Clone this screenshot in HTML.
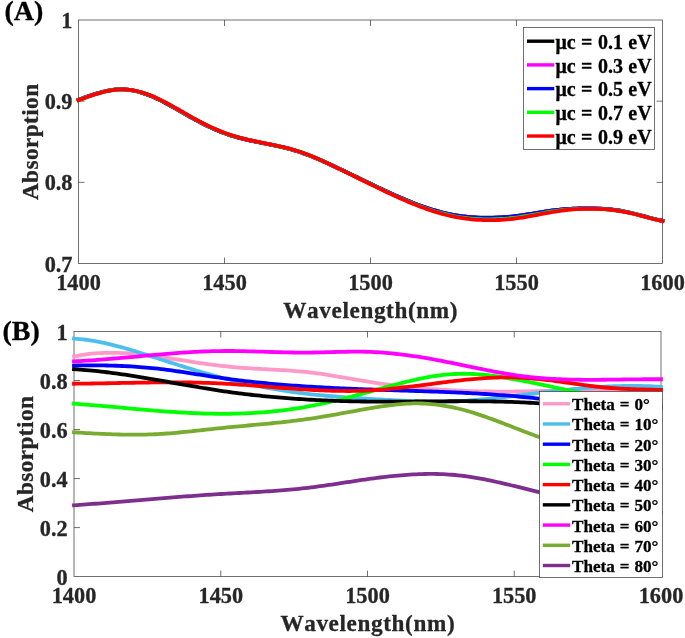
<!DOCTYPE html><html><head><meta charset="utf-8"><title>Absorption</title><style>html,body{margin:0;padding:0;background:#fff}svg{display:block}text{font-family:"Liberation Serif","Times New Roman",serif;font-weight:bold;font-kerning:none;paint-order:stroke}</style></head><body>
<svg width="685" height="638" viewBox="0 0 685 638">
<rect width="685" height="638" fill="#fff"/>
<g stroke="#404040" stroke-width="0.75" fill="none">
<rect x="78.5" y="20.0" width="584.0" height="243.5"/>
<path d="M224.50 263.5v-6M224.50 20.0v6"/>
<path d="M370.50 263.5v-6M370.50 20.0v6"/>
<path d="M516.50 263.5v-6M516.50 20.0v6"/>
<path d="M78.5 182.33h6M662.5 182.33h-6"/>
<path d="M78.5 101.17h6M662.5 101.17h-6"/>
</g>
<g fill="#262626" font-size="22.3" stroke="#262626" stroke-width="0.3">
<text x="78.5" y="289.7" text-anchor="middle">1400</text>
<text x="224.5" y="289.7" text-anchor="middle">1450</text>
<text x="370.5" y="289.7" text-anchor="middle">1500</text>
<text x="516.5" y="289.7" text-anchor="middle">1550</text>
<text x="662.5" y="289.7" text-anchor="middle">1600</text>
<text x="72.5" y="271.5" text-anchor="end">0.7</text>
<text x="72.5" y="190.3" text-anchor="end">0.8</text>
<text x="72.5" y="109.2" text-anchor="end">0.9</text>
<text x="72.5" y="28.0" text-anchor="end">1</text>
</g>
<g stroke="#404040" stroke-width="0.75" fill="none">
<rect x="74.0" y="331.5" width="587.0" height="245.10000000000002"/>
<path d="M220.75 576.6v-6M220.75 331.5v6"/>
<path d="M367.50 576.6v-6M367.50 331.5v6"/>
<path d="M514.25 576.6v-6M514.25 331.5v6"/>
<path d="M74.0 527.58h6M661.0 527.58h-6"/>
<path d="M74.0 478.56h6M661.0 478.56h-6"/>
<path d="M74.0 429.54h6M661.0 429.54h-6"/>
<path d="M74.0 380.52h6M661.0 380.52h-6"/>
</g>
<g fill="#262626" font-size="22.3" stroke="#262626" stroke-width="0.3">
<text x="74.0" y="603.1" text-anchor="middle">1400</text>
<text x="220.8" y="603.1" text-anchor="middle">1450</text>
<text x="367.5" y="603.1" text-anchor="middle">1500</text>
<text x="514.2" y="603.1" text-anchor="middle">1550</text>
<text x="661.0" y="603.1" text-anchor="middle">1600</text>
<text x="67.7" y="584.8" text-anchor="end">0</text>
<text x="67.7" y="535.7" text-anchor="end">0.2</text>
<text x="67.7" y="486.7" text-anchor="end">0.4</text>
<text x="67.7" y="437.7" text-anchor="end">0.6</text>
<text x="67.7" y="388.7" text-anchor="end">0.8</text>
<text x="67.7" y="339.6" text-anchor="end">1</text>
</g>
<g fill="#262626" font-size="23.2" letter-spacing="0.62" stroke="#262626" stroke-width="0.3">
<text x="370.7" y="318.1" text-anchor="middle">Wavelength(nm)</text>
<text x="367.8" y="631.2" text-anchor="middle">Wavelength(nm)</text>
<text transform="translate(37.9 141.8) rotate(-90)" text-anchor="middle" letter-spacing="0.45">Absorption</text>
<text transform="translate(32.5 454) rotate(-90)" text-anchor="middle" letter-spacing="0.45">Absorption</text>
</g>
<g fill="#000" font-size="28" stroke="#000" stroke-width="0.3">
<text x="4.5" y="19.7">(A)</text>
<text x="2.5" y="339.5">(B)</text>
</g>
<g fill="none" stroke-width="3.8" stroke-linejoin="round" stroke-linecap="square">
<path stroke="#000" d="M78.5 99.79 L81.5 98.70 L84.5 97.62 L87.5 96.56 L90.5 95.54 L93.5 94.55 L96.5 93.62 L99.5 92.74 L102.5 91.94 L105.5 91.23 L108.5 90.61 L111.5 90.10 L114.5 89.71 L117.5 89.46 L120.5 89.35 L123.5 89.39 L126.5 89.59 L129.5 89.93 L132.5 90.40 L135.5 91.01 L138.5 91.75 L141.5 92.60 L144.5 93.57 L147.5 94.65 L150.5 95.82 L153.5 97.09 L156.5 98.44 L159.5 99.88 L162.5 101.39 L165.5 102.95 L168.5 104.57 L171.5 106.24 L174.5 107.93 L177.5 109.64 L180.5 111.37 L183.5 113.10 L186.5 114.82 L189.5 116.52 L192.5 118.19 L195.5 119.83 L198.5 121.43 L201.5 122.98 L204.5 124.49 L207.5 125.96 L210.5 127.37 L213.5 128.73 L216.5 130.03 L219.5 131.27 L222.5 132.45 L225.5 133.57 L228.5 134.61 L231.5 135.59 L234.5 136.50 L237.5 137.35 L240.5 138.16 L243.5 138.91 L246.5 139.63 L249.5 140.31 L252.5 140.96 L255.5 141.59 L258.5 142.20 L261.5 142.80 L264.5 143.40 L267.5 144.00 L270.5 144.60 L273.5 145.22 L276.5 145.85 L279.5 146.51 L282.5 147.20 L285.5 147.93 L288.5 148.70 L291.5 149.52 L294.5 150.38 L297.5 151.31 L300.5 152.29 L303.5 153.33 L306.5 154.42 L309.5 155.56 L312.5 156.76 L315.5 157.99 L318.5 159.26 L321.5 160.57 L324.5 161.91 L327.5 163.28 L330.5 164.66 L333.5 166.06 L336.5 167.48 L339.5 168.90 L342.5 170.32 L345.5 171.75 L348.5 173.19 L351.5 174.63 L354.5 176.07 L357.5 177.51 L360.5 178.96 L363.5 180.40 L366.5 181.84 L369.5 183.27 L372.5 184.72 L375.5 186.16 L378.5 187.60 L381.5 189.02 L384.5 190.43 L387.5 191.83 L390.5 193.21 L393.5 194.57 L396.5 195.91 L399.5 197.24 L402.5 198.54 L405.5 199.81 L408.5 201.06 L411.5 202.27 L414.5 203.45 L417.5 204.60 L420.5 205.71 L423.5 206.77 L426.5 207.80 L429.5 208.78 L432.5 209.72 L435.5 210.61 L438.5 211.45 L441.5 212.25 L444.5 212.99 L447.5 213.68 L450.5 214.31 L453.5 214.89 L456.5 215.41 L459.5 215.88 L462.5 216.29 L465.5 216.64 L468.5 216.94 L471.5 217.20 L474.5 217.40 L477.5 217.56 L480.5 217.66 L483.5 217.73 L486.5 217.76 L489.5 217.75 L492.5 217.70 L495.5 217.61 L498.5 217.49 L501.5 217.33 L504.5 217.13 L507.5 216.90 L510.5 216.63 L513.5 216.32 L516.5 215.97 L519.5 215.59 L522.5 215.17 L525.5 214.72 L528.5 214.25 L531.5 213.76 L534.5 213.27 L537.5 212.77 L540.5 212.28 L543.5 211.80 L546.5 211.34 L549.5 210.90 L552.5 210.50 L555.5 210.12 L558.5 209.78 L561.5 209.48 L564.5 209.23 L567.5 209.01 L570.5 208.83 L573.5 208.67 L576.5 208.54 L579.5 208.44 L582.5 208.38 L585.5 208.34 L588.5 208.34 L591.5 208.37 L594.5 208.43 L597.5 208.53 L600.5 208.67 L603.5 208.85 L606.5 209.08 L609.5 209.35 L612.5 209.68 L615.5 210.05 L618.5 210.48 L621.5 210.97 L624.5 211.51 L627.5 212.11 L630.5 212.77 L633.5 213.49 L636.5 214.25 L639.5 215.05 L642.5 215.86 L645.5 216.67 L648.5 217.49 L651.5 218.28 L654.5 219.04 L657.5 219.75 L660.5 220.40 L662.5 220.80"/>
<path stroke="#ff00ff" d="M78.5 99.79 L81.5 98.70 L84.5 97.62 L87.5 96.56 L90.5 95.54 L93.5 94.55 L96.5 93.62 L99.5 92.74 L102.5 91.94 L105.5 91.23 L108.5 90.61 L111.5 90.10 L114.5 89.71 L117.5 89.46 L120.5 89.35 L123.5 89.39 L126.5 89.59 L129.5 89.93 L132.5 90.40 L135.5 91.01 L138.5 91.75 L141.5 92.60 L144.5 93.57 L147.5 94.65 L150.5 95.82 L153.5 97.09 L156.5 98.44 L159.5 99.88 L162.5 101.39 L165.5 102.95 L168.5 104.57 L171.5 106.24 L174.5 107.93 L177.5 109.64 L180.5 111.37 L183.5 113.10 L186.5 114.82 L189.5 116.52 L192.5 118.19 L195.5 119.83 L198.5 121.43 L201.5 122.98 L204.5 124.49 L207.5 125.96 L210.5 127.37 L213.5 128.73 L216.5 130.03 L219.5 131.27 L222.5 132.45 L225.5 133.57 L228.5 134.61 L231.5 135.59 L234.5 136.50 L237.5 137.35 L240.5 138.16 L243.5 138.91 L246.5 139.63 L249.5 140.31 L252.5 140.96 L255.5 141.59 L258.5 142.20 L261.5 142.80 L264.5 143.40 L267.5 144.00 L270.5 144.60 L273.5 145.22 L276.5 145.85 L279.5 146.51 L282.5 147.20 L285.5 147.93 L288.5 148.70 L291.5 149.52 L294.5 150.38 L297.5 151.31 L300.5 152.30 L303.5 153.33 L306.5 154.42 L309.5 155.57 L312.5 156.76 L315.5 157.99 L318.5 159.27 L321.5 160.58 L324.5 161.92 L327.5 163.28 L330.5 164.67 L333.5 166.07 L336.5 167.49 L339.5 168.91 L342.5 170.34 L345.5 171.77 L348.5 173.21 L351.5 174.65 L354.5 176.09 L357.5 177.53 L360.5 178.98 L363.5 180.42 L366.5 181.86 L369.5 183.29 L372.5 184.74 L375.5 186.19 L378.5 187.63 L381.5 189.05 L384.5 190.47 L387.5 191.86 L390.5 193.25 L393.5 194.61 L396.5 195.95 L399.5 197.28 L402.5 198.58 L405.5 199.85 L408.5 201.10 L411.5 202.32 L414.5 203.50 L417.5 204.65 L420.5 205.76 L423.5 206.83 L426.5 207.86 L429.5 208.85 L432.5 209.79 L435.5 210.68 L438.5 211.53 L441.5 212.33 L444.5 213.07 L447.5 213.77 L450.5 214.40 L453.5 214.99 L456.5 215.51 L459.5 215.98 L462.5 216.39 L465.5 216.75 L468.5 217.06 L471.5 217.32 L474.5 217.52 L477.5 217.68 L480.5 217.79 L483.5 217.87 L486.5 217.90 L489.5 217.89 L492.5 217.84 L495.5 217.76 L498.5 217.63 L501.5 217.47 L504.5 217.27 L507.5 217.04 L510.5 216.77 L513.5 216.46 L516.5 216.11 L519.5 215.72 L522.5 215.30 L525.5 214.85 L528.5 214.38 L531.5 213.89 L534.5 213.39 L537.5 212.89 L540.5 212.39 L543.5 211.91 L546.5 211.44 L549.5 210.99 L552.5 210.58 L555.5 210.20 L558.5 209.85 L561.5 209.55 L564.5 209.29 L567.5 209.06 L570.5 208.87 L573.5 208.71 L576.5 208.58 L579.5 208.48 L582.5 208.41 L585.5 208.37 L588.5 208.37 L591.5 208.39 L594.5 208.45 L597.5 208.55 L600.5 208.69 L603.5 208.87 L606.5 209.10 L609.5 209.37 L612.5 209.70 L615.5 210.07 L618.5 210.50 L621.5 210.98 L624.5 211.53 L627.5 212.13 L630.5 212.79 L633.5 213.51 L636.5 214.27 L639.5 215.06 L642.5 215.87 L645.5 216.69 L648.5 217.50 L651.5 218.29 L654.5 219.05 L657.5 219.76 L660.5 220.41 L662.5 220.81"/>
<path stroke="#0000ff" d="M78.5 99.79 L81.5 98.70 L84.5 97.62 L87.5 96.56 L90.5 95.54 L93.5 94.55 L96.5 93.62 L99.5 92.74 L102.5 91.94 L105.5 91.23 L108.5 90.61 L111.5 90.10 L114.5 89.71 L117.5 89.46 L120.5 89.35 L123.5 89.39 L126.5 89.59 L129.5 89.93 L132.5 90.40 L135.5 91.01 L138.5 91.75 L141.5 92.60 L144.5 93.57 L147.5 94.65 L150.5 95.82 L153.5 97.09 L156.5 98.44 L159.5 99.88 L162.5 101.39 L165.5 102.95 L168.5 104.57 L171.5 106.24 L174.5 107.93 L177.5 109.64 L180.5 111.37 L183.5 113.10 L186.5 114.82 L189.5 116.52 L192.5 118.19 L195.5 119.83 L198.5 121.43 L201.5 122.98 L204.5 124.49 L207.5 125.96 L210.5 127.37 L213.5 128.73 L216.5 130.03 L219.5 131.27 L222.5 132.45 L225.5 133.57 L228.5 134.61 L231.5 135.59 L234.5 136.50 L237.5 137.35 L240.5 138.16 L243.5 138.91 L246.5 139.63 L249.5 140.31 L252.5 140.96 L255.5 141.59 L258.5 142.20 L261.5 142.80 L264.5 143.40 L267.5 144.00 L270.5 144.60 L273.5 145.22 L276.5 145.85 L279.5 146.51 L282.5 147.20 L285.5 147.93 L288.5 148.70 L291.5 149.52 L294.5 150.38 L297.5 151.31 L300.5 152.30 L303.5 153.33 L306.5 154.42 L309.5 155.57 L312.5 156.76 L315.5 157.99 L318.5 159.27 L321.5 160.58 L324.5 161.92 L327.5 163.28 L330.5 164.67 L333.5 166.07 L336.5 167.49 L339.5 168.91 L342.5 170.34 L345.5 171.77 L348.5 173.21 L351.5 174.65 L354.5 176.09 L357.5 177.53 L360.5 178.98 L363.5 180.42 L366.5 181.86 L369.5 183.29 L372.5 184.74 L375.5 186.19 L378.5 187.63 L381.5 189.05 L384.5 190.47 L387.5 191.86 L390.5 193.25 L393.5 194.61 L396.5 195.95 L399.5 197.28 L402.5 198.58 L405.5 199.85 L408.5 201.10 L411.5 202.32 L414.5 203.50 L417.5 204.65 L420.5 205.76 L423.5 206.83 L426.5 207.86 L429.5 208.85 L432.5 209.79 L435.5 210.68 L438.5 211.53 L441.5 212.33 L444.5 213.07 L447.5 213.77 L450.5 214.40 L453.5 214.99 L456.5 215.51 L459.5 215.98 L462.5 216.39 L465.5 216.75 L468.5 217.06 L471.5 217.32 L474.5 217.52 L477.5 217.68 L480.5 217.79 L483.5 217.87 L486.5 217.90 L489.5 217.89 L492.5 217.84 L495.5 217.76 L498.5 217.63 L501.5 217.47 L504.5 217.27 L507.5 217.04 L510.5 216.77 L513.5 216.46 L516.5 216.11 L519.5 215.72 L522.5 215.30 L525.5 214.85 L528.5 214.38 L531.5 213.89 L534.5 213.39 L537.5 212.89 L540.5 212.39 L543.5 211.91 L546.5 211.44 L549.5 210.99 L552.5 210.58 L555.5 210.20 L558.5 209.85 L561.5 209.55 L564.5 209.29 L567.5 209.06 L570.5 208.87 L573.5 208.71 L576.5 208.58 L579.5 208.48 L582.5 208.41 L585.5 208.37 L588.5 208.37 L591.5 208.39 L594.5 208.45 L597.5 208.55 L600.5 208.69 L603.5 208.87 L606.5 209.10 L609.5 209.37 L612.5 209.70 L615.5 210.07 L618.5 210.50 L621.5 210.98 L624.5 211.53 L627.5 212.13 L630.5 212.79 L633.5 213.51 L636.5 214.27 L639.5 215.06 L642.5 215.87 L645.5 216.69 L648.5 217.50 L651.5 218.29 L654.5 219.05 L657.5 219.76 L660.5 220.41 L662.5 220.81"/>
<path stroke="#00ff00" d="M78.5 99.99 L81.5 98.90 L84.5 97.82 L87.5 96.76 L90.5 95.72 L93.5 94.73 L96.5 93.78 L99.5 92.90 L102.5 92.08 L105.5 91.35 L108.5 90.72 L111.5 90.19 L114.5 89.78 L117.5 89.50 L120.5 89.36 L123.5 89.37 L126.5 89.54 L129.5 89.85 L132.5 90.31 L135.5 90.89 L138.5 91.61 L141.5 92.44 L144.5 93.39 L147.5 94.44 L150.5 95.60 L153.5 96.85 L156.5 98.19 L159.5 99.61 L162.5 101.11 L165.5 102.66 L168.5 104.27 L171.5 105.93 L174.5 107.62 L177.5 109.33 L180.5 111.05 L183.5 112.78 L186.5 114.50 L189.5 116.21 L192.5 117.89 L195.5 119.53 L198.5 121.14 L201.5 122.70 L204.5 124.22 L207.5 125.69 L210.5 127.11 L213.5 128.48 L216.5 129.80 L219.5 131.05 L222.5 132.24 L225.5 133.37 L228.5 134.42 L231.5 135.41 L234.5 136.34 L237.5 137.20 L240.5 138.01 L243.5 138.78 L246.5 139.50 L249.5 140.18 L252.5 140.84 L255.5 141.47 L258.5 142.09 L261.5 142.69 L264.5 143.29 L267.5 143.89 L270.5 144.49 L273.5 145.10 L276.5 145.73 L279.5 146.39 L282.5 147.07 L285.5 147.79 L288.5 148.56 L291.5 149.36 L294.5 150.22 L297.5 151.14 L300.5 152.12 L303.5 153.16 L306.5 154.26 L309.5 155.41 L312.5 156.62 L315.5 157.87 L318.5 159.16 L321.5 160.49 L324.5 161.84 L327.5 163.23 L330.5 164.64 L333.5 166.06 L336.5 167.49 L339.5 168.94 L342.5 170.39 L345.5 171.84 L348.5 173.30 L351.5 174.77 L354.5 176.23 L357.5 177.70 L360.5 179.16 L363.5 180.63 L366.5 182.09 L369.5 183.55 L372.5 185.01 L375.5 186.48 L378.5 187.93 L381.5 189.37 L384.5 190.80 L387.5 192.22 L390.5 193.62 L393.5 195.00 L396.5 196.37 L399.5 197.71 L402.5 199.03 L405.5 200.33 L408.5 201.60 L411.5 202.84 L414.5 204.05 L417.5 205.22 L420.5 206.36 L423.5 207.46 L426.5 208.53 L429.5 209.55 L432.5 210.52 L435.5 211.46 L438.5 212.34 L441.5 213.18 L444.5 213.96 L447.5 214.70 L450.5 215.38 L453.5 216.00 L456.5 216.57 L459.5 217.08 L462.5 217.54 L465.5 217.94 L468.5 218.29 L471.5 218.59 L474.5 218.84 L477.5 219.04 L480.5 219.19 L483.5 219.29 L486.5 219.35 L489.5 219.36 L492.5 219.33 L495.5 219.26 L498.5 219.14 L501.5 218.98 L504.5 218.78 L507.5 218.54 L510.5 218.25 L513.5 217.93 L516.5 217.56 L519.5 217.16 L522.5 216.72 L525.5 216.24 L528.5 215.73 L531.5 215.20 L534.5 214.66 L537.5 214.11 L540.5 213.56 L543.5 213.02 L546.5 212.49 L549.5 211.98 L552.5 211.49 L555.5 211.04 L558.5 210.62 L561.5 210.24 L564.5 209.91 L567.5 209.62 L570.5 209.37 L573.5 209.15 L576.5 208.97 L579.5 208.83 L582.5 208.73 L585.5 208.67 L588.5 208.64 L591.5 208.65 L594.5 208.70 L597.5 208.79 L600.5 208.92 L603.5 209.09 L606.5 209.31 L609.5 209.58 L612.5 209.90 L615.5 210.27 L618.5 210.69 L621.5 211.17 L624.5 211.70 L627.5 212.30 L630.5 212.95 L633.5 213.66 L636.5 214.42 L639.5 215.20 L642.5 216.01 L645.5 216.82 L648.5 217.62 L651.5 218.41 L654.5 219.16 L657.5 219.87 L660.5 220.52 L662.5 220.92"/>
<path stroke="#ff0000" d="M78.5 100.19 L81.5 99.10 L84.5 98.02 L87.5 96.95 L90.5 95.91 L93.5 94.91 L96.5 93.95 L99.5 93.06 L102.5 92.23 L105.5 91.48 L108.5 90.83 L111.5 90.28 L114.5 89.84 L117.5 89.54 L120.5 89.37 L123.5 89.36 L126.5 89.50 L129.5 89.78 L132.5 90.21 L135.5 90.77 L138.5 91.47 L141.5 92.28 L144.5 93.20 L147.5 94.24 L150.5 95.38 L153.5 96.61 L156.5 97.94 L159.5 99.34 L162.5 100.83 L165.5 102.37 L168.5 103.98 L171.5 105.62 L174.5 107.31 L177.5 109.01 L180.5 110.74 L183.5 112.47 L186.5 114.19 L189.5 115.90 L192.5 117.58 L195.5 119.23 L198.5 120.85 L201.5 122.42 L204.5 123.95 L207.5 125.43 L210.5 126.86 L213.5 128.24 L216.5 129.56 L219.5 130.82 L222.5 132.03 L225.5 133.16 L228.5 134.24 L231.5 135.24 L234.5 136.17 L237.5 137.05 L240.5 137.87 L243.5 138.64 L246.5 139.37 L249.5 140.06 L252.5 140.72 L255.5 141.36 L258.5 141.98 L261.5 142.58 L264.5 143.18 L267.5 143.78 L270.5 144.38 L273.5 144.99 L276.5 145.62 L279.5 146.27 L282.5 146.95 L285.5 147.66 L288.5 148.41 L291.5 149.21 L294.5 150.06 L297.5 150.97 L300.5 151.95 L303.5 152.98 L306.5 154.09 L309.5 155.25 L312.5 156.46 L315.5 157.72 L318.5 159.02 L321.5 160.36 L324.5 161.73 L327.5 163.13 L330.5 164.55 L333.5 165.99 L336.5 167.44 L339.5 168.90 L342.5 170.37 L345.5 171.84 L348.5 173.32 L351.5 174.80 L354.5 176.28 L357.5 177.77 L360.5 179.25 L363.5 180.74 L366.5 182.22 L369.5 183.69 L372.5 185.17 L375.5 186.64 L378.5 188.10 L381.5 189.55 L384.5 190.99 L387.5 192.42 L390.5 193.83 L393.5 195.23 L396.5 196.60 L399.5 197.96 L402.5 199.29 L405.5 200.60 L408.5 201.88 L411.5 203.13 L414.5 204.36 L417.5 205.55 L420.5 206.70 L423.5 207.82 L426.5 208.90 L429.5 209.94 L432.5 210.94 L435.5 211.89 L438.5 212.80 L441.5 213.66 L444.5 214.47 L447.5 215.22 L450.5 215.93 L453.5 216.57 L456.5 217.16 L459.5 217.70 L462.5 218.18 L465.5 218.61 L468.5 218.99 L471.5 219.31 L474.5 219.58 L477.5 219.80 L480.5 219.97 L483.5 220.10 L486.5 220.17 L489.5 220.19 L492.5 220.17 L495.5 220.10 L498.5 219.99 L501.5 219.83 L504.5 219.63 L507.5 219.38 L510.5 219.09 L513.5 218.75 L516.5 218.38 L519.5 217.97 L522.5 217.51 L525.5 217.02 L528.5 216.49 L531.5 215.94 L534.5 215.38 L537.5 214.80 L540.5 214.22 L543.5 213.65 L546.5 213.08 L549.5 212.53 L552.5 212.00 L555.5 211.51 L558.5 211.05 L561.5 210.63 L564.5 210.26 L567.5 209.93 L570.5 209.64 L573.5 209.40 L576.5 209.20 L579.5 209.04 L582.5 208.92 L585.5 208.84 L588.5 208.80 L591.5 208.80 L594.5 208.84 L597.5 208.92 L600.5 209.05 L603.5 209.22 L606.5 209.43 L609.5 209.70 L612.5 210.01 L615.5 210.37 L618.5 210.79 L621.5 211.27 L624.5 211.80 L627.5 212.39 L630.5 213.04 L633.5 213.75 L636.5 214.50 L639.5 215.28 L642.5 216.09 L645.5 216.89 L648.5 217.69 L651.5 218.48 L654.5 219.23 L657.5 219.93 L660.5 220.58 L662.5 220.98"/>
</g>
<g fill="none" stroke-width="3.8" stroke-linejoin="round" stroke-linecap="square">
<path stroke="#ff99c8" d="M74.0 356.38 L77.0 355.79 L80.0 355.25 L83.0 354.78 L86.0 354.36 L89.0 353.99 L92.0 353.68 L95.0 353.42 L98.0 353.20 L101.0 353.04 L104.0 352.92 L107.0 352.84 L110.0 352.80 L113.0 352.81 L116.0 352.86 L119.0 352.94 L122.0 353.05 L125.0 353.21 L128.0 353.39 L131.0 353.60 L134.0 353.84 L137.0 354.11 L140.0 354.41 L143.0 354.72 L146.0 355.06 L149.0 355.42 L152.0 355.80 L155.0 356.19 L158.0 356.60 L161.0 357.03 L164.0 357.46 L167.0 357.91 L170.0 358.36 L173.0 358.82 L176.0 359.29 L179.0 359.75 L182.0 360.23 L185.0 360.70 L188.0 361.17 L191.0 361.64 L194.0 362.10 L197.0 362.56 L200.0 363.01 L203.0 363.45 L206.0 363.88 L209.0 364.29 L212.0 364.70 L215.0 365.08 L218.0 365.45 L221.0 365.80 L224.0 366.14 L227.0 366.45 L230.0 366.74 L233.0 367.02 L236.0 367.28 L239.0 367.53 L242.0 367.77 L245.0 367.99 L248.0 368.20 L251.0 368.40 L254.0 368.59 L257.0 368.77 L260.0 368.94 L263.0 369.11 L266.0 369.27 L269.0 369.43 L272.0 369.59 L275.0 369.74 L278.0 369.90 L281.0 370.07 L284.0 370.24 L287.0 370.43 L290.0 370.62 L293.0 370.83 L296.0 371.06 L299.0 371.31 L302.0 371.58 L305.0 371.87 L308.0 372.19 L311.0 372.53 L314.0 372.90 L317.0 373.30 L320.0 373.71 L323.0 374.15 L326.0 374.60 L329.0 375.07 L332.0 375.55 L335.0 376.05 L338.0 376.55 L341.0 377.06 L344.0 377.58 L347.0 378.10 L350.0 378.63 L353.0 379.15 L356.0 379.67 L359.0 380.18 L362.0 380.69 L365.0 381.19 L368.0 381.68 L371.0 382.16 L374.0 382.63 L377.0 383.08 L380.0 383.51 L383.0 383.94 L386.0 384.35 L389.0 384.75 L392.0 385.13 L395.0 385.50 L398.0 385.86 L401.0 386.21 L404.0 386.55 L407.0 386.87 L410.0 387.18 L413.0 387.48 L416.0 387.77 L419.0 388.04 L422.0 388.30 L425.0 388.56 L428.0 388.80 L431.0 389.03 L434.0 389.25 L437.0 389.45 L440.0 389.65 L443.0 389.84 L446.0 390.02 L449.0 390.18 L452.0 390.34 L455.0 390.48 L458.0 390.62 L461.0 390.75 L464.0 390.86 L467.0 390.97 L470.0 391.07 L473.0 391.16 L476.0 391.24 L479.0 391.31 L482.0 391.37 L485.0 391.42 L488.0 391.47 L491.0 391.51 L494.0 391.54 L497.0 391.56 L500.0 391.57 L503.0 391.57 L506.0 391.57 L509.0 391.56 L512.0 391.54 L515.0 391.52 L518.0 391.49 L521.0 391.45 L524.0 391.40 L527.0 391.35 L530.0 391.29 L533.0 391.23 L536.0 391.16 L539.0 391.09 L542.0 391.02 L545.0 390.94 L548.0 390.86 L551.0 390.78 L554.0 390.70 L557.0 390.62 L560.0 390.54 L563.0 390.45 L566.0 390.38 L569.0 390.30 L572.0 390.22 L575.0 390.15 L578.0 390.08 L581.0 390.02 L584.0 389.96 L587.0 389.90 L590.0 389.85 L593.0 389.81 L596.0 389.77 L599.0 389.75 L602.0 389.73 L605.0 389.71 L608.0 389.71 L611.0 389.72 L614.0 389.74 L617.0 389.76 L620.0 389.79 L623.0 389.82 L626.0 389.85 L629.0 389.89 L632.0 389.93 L635.0 389.97 L638.0 390.00 L641.0 390.03 L644.0 390.06 L647.0 390.08 L650.0 390.09 L653.0 390.09 L656.0 390.09 L659.0 390.07 L661.0 390.05"/>
<path stroke="#4dbeee" d="M74.0 338.60 L77.0 338.81 L80.0 339.07 L83.0 339.39 L86.0 339.76 L89.0 340.18 L92.0 340.64 L95.0 341.15 L98.0 341.70 L101.0 342.30 L104.0 342.93 L107.0 343.60 L110.0 344.30 L113.0 345.03 L116.0 345.80 L119.0 346.59 L122.0 347.41 L125.0 348.26 L128.0 349.12 L131.0 350.01 L134.0 350.91 L137.0 351.83 L140.0 352.76 L143.0 353.70 L146.0 354.65 L149.0 355.61 L152.0 356.57 L155.0 357.54 L158.0 358.51 L161.0 359.47 L164.0 360.44 L167.0 361.40 L170.0 362.35 L173.0 363.31 L176.0 364.26 L179.0 365.20 L182.0 366.14 L185.0 367.07 L188.0 367.99 L191.0 368.91 L194.0 369.82 L197.0 370.71 L200.0 371.60 L203.0 372.48 L206.0 373.34 L209.0 374.19 L212.0 375.04 L215.0 375.86 L218.0 376.67 L221.0 377.47 L224.0 378.26 L227.0 379.02 L230.0 379.78 L233.0 380.51 L236.0 381.23 L239.0 381.94 L242.0 382.63 L245.0 383.31 L248.0 383.97 L251.0 384.61 L254.0 385.24 L257.0 385.86 L260.0 386.46 L263.0 387.04 L266.0 387.61 L269.0 388.16 L272.0 388.70 L275.0 389.22 L278.0 389.73 L281.0 390.22 L284.0 390.69 L287.0 391.15 L290.0 391.60 L293.0 392.03 L296.0 392.44 L299.0 392.84 L302.0 393.22 L305.0 393.59 L308.0 393.94 L311.0 394.28 L314.0 394.60 L317.0 394.91 L320.0 395.20 L323.0 395.48 L326.0 395.75 L329.0 396.01 L332.0 396.26 L335.0 396.50 L338.0 396.73 L341.0 396.96 L344.0 397.17 L347.0 397.38 L350.0 397.59 L353.0 397.79 L356.0 397.98 L359.0 398.17 L362.0 398.36 L365.0 398.55 L368.0 398.73 L371.0 398.92 L374.0 399.10 L377.0 399.28 L380.0 399.47 L383.0 399.64 L386.0 399.82 L389.0 399.99 L392.0 400.16 L395.0 400.32 L398.0 400.48 L401.0 400.63 L404.0 400.77 L407.0 400.90 L410.0 401.02 L413.0 401.14 L416.0 401.24 L419.0 401.33 L422.0 401.41 L425.0 401.47 L428.0 401.53 L431.0 401.56 L434.0 401.59 L437.0 401.59 L440.0 401.59 L443.0 401.56 L446.0 401.51 L449.0 401.45 L452.0 401.37 L455.0 401.26 L458.0 401.14 L461.0 400.99 L464.0 400.82 L467.0 400.64 L470.0 400.43 L473.0 400.21 L476.0 399.97 L479.0 399.72 L482.0 399.45 L485.0 399.16 L488.0 398.87 L491.0 398.56 L494.0 398.24 L497.0 397.92 L500.0 397.58 L503.0 397.24 L506.0 396.89 L509.0 396.54 L512.0 396.18 L515.0 395.81 L518.0 395.45 L521.0 395.08 L524.0 394.72 L527.0 394.35 L530.0 393.98 L533.0 393.62 L536.0 393.26 L539.0 392.90 L542.0 392.54 L545.0 392.18 L548.0 391.83 L551.0 391.49 L554.0 391.15 L557.0 390.81 L560.0 390.48 L563.0 390.16 L566.0 389.84 L569.0 389.54 L572.0 389.24 L575.0 388.95 L578.0 388.67 L581.0 388.40 L584.0 388.14 L587.0 387.89 L590.0 387.65 L593.0 387.43 L596.0 387.22 L599.0 387.02 L602.0 386.84 L605.0 386.67 L608.0 386.51 L611.0 386.37 L614.0 386.25 L617.0 386.15 L620.0 386.06 L623.0 385.99 L626.0 385.94 L629.0 385.90 L632.0 385.89 L635.0 385.90 L638.0 385.93 L641.0 385.98 L644.0 386.05 L647.0 386.14 L650.0 386.26 L653.0 386.40 L656.0 386.56 L659.0 386.75 L661.0 386.89"/>
<path stroke="#0000ff" d="M74.0 365.57 L77.0 365.51 L80.0 365.46 L83.0 365.42 L86.0 365.39 L89.0 365.38 L92.0 365.37 L95.0 365.37 L98.0 365.39 L101.0 365.42 L104.0 365.46 L107.0 365.51 L110.0 365.58 L113.0 365.65 L116.0 365.75 L119.0 365.86 L122.0 365.98 L125.0 366.11 L128.0 366.27 L131.0 366.44 L134.0 366.62 L137.0 366.82 L140.0 367.04 L143.0 367.28 L146.0 367.53 L149.0 367.80 L152.0 368.09 L155.0 368.40 L158.0 368.73 L161.0 369.08 L164.0 369.45 L167.0 369.83 L170.0 370.23 L173.0 370.64 L176.0 371.07 L179.0 371.50 L182.0 371.95 L185.0 372.40 L188.0 372.86 L191.0 373.33 L194.0 373.79 L197.0 374.26 L200.0 374.73 L203.0 375.20 L206.0 375.67 L209.0 376.13 L212.0 376.59 L215.0 377.04 L218.0 377.48 L221.0 377.92 L224.0 378.34 L227.0 378.75 L230.0 379.15 L233.0 379.55 L236.0 379.93 L239.0 380.30 L242.0 380.66 L245.0 381.02 L248.0 381.36 L251.0 381.69 L254.0 382.02 L257.0 382.34 L260.0 382.65 L263.0 382.95 L266.0 383.24 L269.0 383.52 L272.0 383.80 L275.0 384.07 L278.0 384.33 L281.0 384.58 L284.0 384.82 L287.0 385.06 L290.0 385.29 L293.0 385.52 L296.0 385.74 L299.0 385.95 L302.0 386.15 L305.0 386.35 L308.0 386.55 L311.0 386.73 L314.0 386.92 L317.0 387.09 L320.0 387.26 L323.0 387.43 L326.0 387.59 L329.0 387.75 L332.0 387.90 L335.0 388.05 L338.0 388.19 L341.0 388.33 L344.0 388.46 L347.0 388.59 L350.0 388.72 L353.0 388.84 L356.0 388.96 L359.0 389.08 L362.0 389.20 L365.0 389.31 L368.0 389.42 L371.0 389.52 L374.0 389.63 L377.0 389.73 L380.0 389.83 L383.0 389.93 L386.0 390.03 L389.0 390.12 L392.0 390.22 L395.0 390.31 L398.0 390.41 L401.0 390.50 L404.0 390.60 L407.0 390.69 L410.0 390.79 L413.0 390.88 L416.0 390.98 L419.0 391.08 L422.0 391.17 L425.0 391.28 L428.0 391.38 L431.0 391.48 L434.0 391.59 L437.0 391.70 L440.0 391.81 L443.0 391.93 L446.0 392.05 L449.0 392.17 L452.0 392.30 L455.0 392.43 L458.0 392.56 L461.0 392.70 L464.0 392.84 L467.0 392.99 L470.0 393.15 L473.0 393.31 L476.0 393.47 L479.0 393.64 L482.0 393.82 L485.0 394.00 L488.0 394.19 L491.0 394.39 L494.0 394.59 L497.0 394.80 L500.0 395.02 L503.0 395.24 L506.0 395.48 L509.0 395.72 L512.0 395.97 L515.0 396.23 L518.0 396.49 L521.0 396.77 L524.0 397.06 L527.0 397.35 L530.0 397.65 L533.0 397.96 L536.0 398.27 L539.0 398.58 L542.0 398.90 L545.0 399.22 L548.0 399.54 L551.0 399.86 L554.0 400.18 L557.0 400.50 L560.0 400.81 L563.0 401.12 L566.0 401.42 L569.0 401.72 L572.0 402.01 L575.0 402.29 L578.0 402.56 L581.0 402.82 L584.0 403.07 L587.0 403.31 L590.0 403.53 L593.0 403.74 L596.0 403.94 L599.0 404.12 L602.0 404.28 L605.0 404.42 L608.0 404.54 L611.0 404.64 L614.0 404.73 L617.0 404.80 L620.0 404.85 L623.0 404.90 L626.0 404.94 L629.0 404.98 L632.0 405.02 L635.0 405.06 L638.0 405.10 L641.0 405.15 L644.0 405.21 L647.0 405.28 L650.0 405.37 L653.0 405.47 L656.0 405.59 L659.0 405.74 L661.0 405.85"/>
<path stroke="#00ff00" d="M74.0 403.64 L77.0 403.86 L80.0 404.09 L83.0 404.32 L86.0 404.56 L89.0 404.81 L92.0 405.06 L95.0 405.31 L98.0 405.57 L101.0 405.83 L104.0 406.10 L107.0 406.36 L110.0 406.63 L113.0 406.90 L116.0 407.18 L119.0 407.45 L122.0 407.72 L125.0 407.99 L128.0 408.27 L131.0 408.54 L134.0 408.81 L137.0 409.08 L140.0 409.34 L143.0 409.60 L146.0 409.86 L149.0 410.11 L152.0 410.36 L155.0 410.61 L158.0 410.85 L161.0 411.08 L164.0 411.31 L167.0 411.53 L170.0 411.74 L173.0 411.95 L176.0 412.15 L179.0 412.34 L182.0 412.51 L185.0 412.68 L188.0 412.84 L191.0 412.99 L194.0 413.13 L197.0 413.26 L200.0 413.37 L203.0 413.48 L206.0 413.56 L209.0 413.64 L212.0 413.70 L215.0 413.75 L218.0 413.78 L221.0 413.80 L224.0 413.80 L227.0 413.79 L230.0 413.76 L233.0 413.71 L236.0 413.65 L239.0 413.57 L242.0 413.47 L245.0 413.36 L248.0 413.22 L251.0 413.07 L254.0 412.91 L257.0 412.72 L260.0 412.51 L263.0 412.29 L266.0 412.05 L269.0 411.78 L272.0 411.50 L275.0 411.20 L278.0 410.88 L281.0 410.53 L284.0 410.17 L287.0 409.79 L290.0 409.38 L293.0 408.95 L296.0 408.50 L299.0 408.03 L302.0 407.54 L305.0 407.03 L308.0 406.49 L311.0 405.93 L314.0 405.35 L317.0 404.75 L320.0 404.12 L323.0 403.48 L326.0 402.82 L329.0 402.14 L332.0 401.45 L335.0 400.74 L338.0 400.01 L341.0 399.28 L344.0 398.53 L347.0 397.76 L350.0 396.99 L353.0 396.20 L356.0 395.41 L359.0 394.61 L362.0 393.80 L365.0 392.98 L368.0 392.16 L371.0 391.33 L374.0 390.50 L377.0 389.67 L380.0 388.84 L383.0 388.01 L386.0 387.19 L389.0 386.37 L392.0 385.56 L395.0 384.76 L398.0 383.97 L401.0 383.20 L404.0 382.44 L407.0 381.70 L410.0 380.98 L413.0 380.28 L416.0 379.61 L419.0 378.97 L422.0 378.35 L425.0 377.76 L428.0 377.21 L431.0 376.68 L434.0 376.20 L437.0 375.75 L440.0 375.34 L443.0 374.98 L446.0 374.66 L449.0 374.38 L452.0 374.16 L455.0 373.98 L458.0 373.86 L461.0 373.78 L464.0 373.76 L467.0 373.79 L470.0 373.87 L473.0 373.99 L476.0 374.16 L479.0 374.36 L482.0 374.61 L485.0 374.89 L488.0 375.21 L491.0 375.56 L494.0 375.95 L497.0 376.36 L500.0 376.80 L503.0 377.26 L506.0 377.75 L509.0 378.26 L512.0 378.79 L515.0 379.33 L518.0 379.89 L521.0 380.46 L524.0 381.05 L527.0 381.64 L530.0 382.24 L533.0 382.85 L536.0 383.47 L539.0 384.09 L542.0 384.72 L545.0 385.35 L548.0 385.98 L551.0 386.61 L554.0 387.24 L557.0 387.87 L560.0 388.50 L563.0 389.12 L566.0 389.74 L569.0 390.35 L572.0 390.95 L575.0 391.54 L578.0 392.13 L581.0 392.70 L584.0 393.26 L587.0 393.81 L590.0 394.35 L593.0 394.86 L596.0 395.36 L599.0 395.85 L602.0 396.31 L605.0 396.75 L608.0 397.17 L611.0 397.57 L614.0 397.95 L617.0 398.30 L620.0 398.62 L623.0 398.91 L626.0 399.18 L629.0 399.42 L632.0 399.62 L635.0 399.80 L638.0 399.94 L641.0 400.04 L644.0 400.11 L647.0 400.15 L650.0 400.14 L653.0 400.10 L656.0 400.01 L659.0 399.89 L661.0 399.78"/>
<path stroke="#ff0000" d="M74.0 383.73 L77.0 383.70 L80.0 383.66 L83.0 383.63 L86.0 383.59 L89.0 383.54 L92.0 383.50 L95.0 383.45 L98.0 383.40 L101.0 383.34 L104.0 383.29 L107.0 383.23 L110.0 383.17 L113.0 383.12 L116.0 383.06 L119.0 383.00 L122.0 382.95 L125.0 382.89 L128.0 382.83 L131.0 382.78 L134.0 382.73 L137.0 382.68 L140.0 382.63 L143.0 382.59 L146.0 382.55 L149.0 382.51 L152.0 382.47 L155.0 382.44 L158.0 382.42 L161.0 382.40 L164.0 382.38 L167.0 382.37 L170.0 382.36 L173.0 382.36 L176.0 382.37 L179.0 382.39 L182.0 382.41 L185.0 382.43 L188.0 382.47 L191.0 382.52 L194.0 382.57 L197.0 382.63 L200.0 382.70 L203.0 382.78 L206.0 382.87 L209.0 382.97 L212.0 383.08 L215.0 383.20 L218.0 383.33 L221.0 383.47 L224.0 383.62 L227.0 383.79 L230.0 383.96 L233.0 384.14 L236.0 384.34 L239.0 384.54 L242.0 384.74 L245.0 384.96 L248.0 385.17 L251.0 385.40 L254.0 385.63 L257.0 385.86 L260.0 386.09 L263.0 386.33 L266.0 386.57 L269.0 386.81 L272.0 387.04 L275.0 387.28 L278.0 387.52 L281.0 387.75 L284.0 387.99 L287.0 388.21 L290.0 388.44 L293.0 388.66 L296.0 388.87 L299.0 389.08 L302.0 389.28 L305.0 389.47 L308.0 389.66 L311.0 389.84 L314.0 390.00 L317.0 390.16 L320.0 390.30 L323.0 390.43 L326.0 390.55 L329.0 390.66 L332.0 390.75 L335.0 390.83 L338.0 390.89 L341.0 390.94 L344.0 390.97 L347.0 390.98 L350.0 390.98 L353.0 390.95 L356.0 390.91 L359.0 390.84 L362.0 390.76 L365.0 390.65 L368.0 390.52 L371.0 390.37 L374.0 390.19 L377.0 389.99 L380.0 389.77 L383.0 389.54 L386.0 389.28 L389.0 389.01 L392.0 388.72 L395.0 388.41 L398.0 388.09 L401.0 387.76 L404.0 387.42 L407.0 387.06 L410.0 386.70 L413.0 386.33 L416.0 385.95 L419.0 385.57 L422.0 385.18 L425.0 384.79 L428.0 384.40 L431.0 384.01 L434.0 383.62 L437.0 383.23 L440.0 382.84 L443.0 382.45 L446.0 382.07 L449.0 381.70 L452.0 381.33 L455.0 380.98 L458.0 380.63 L461.0 380.29 L464.0 379.97 L467.0 379.66 L470.0 379.36 L473.0 379.08 L476.0 378.81 L479.0 378.57 L482.0 378.34 L485.0 378.13 L488.0 377.95 L491.0 377.78 L494.0 377.65 L497.0 377.53 L500.0 377.44 L503.0 377.38 L506.0 377.35 L509.0 377.35 L512.0 377.38 L515.0 377.44 L518.0 377.53 L521.0 377.66 L524.0 377.82 L527.0 378.02 L530.0 378.24 L533.0 378.50 L536.0 378.78 L539.0 379.08 L542.0 379.40 L545.0 379.75 L548.0 380.11 L551.0 380.49 L554.0 380.88 L557.0 381.28 L560.0 381.69 L563.0 382.11 L566.0 382.53 L569.0 382.96 L572.0 383.38 L575.0 383.81 L578.0 384.23 L581.0 384.64 L584.0 385.05 L587.0 385.45 L590.0 385.83 L593.0 386.20 L596.0 386.56 L599.0 386.89 L602.0 387.21 L605.0 387.50 L608.0 387.76 L611.0 388.00 L614.0 388.22 L617.0 388.41 L620.0 388.59 L623.0 388.74 L626.0 388.88 L629.0 389.00 L632.0 389.11 L635.0 389.21 L638.0 389.31 L641.0 389.39 L644.0 389.47 L647.0 389.55 L650.0 389.62 L653.0 389.70 L656.0 389.78 L659.0 389.87 L661.0 389.93"/>
<path stroke="#000000" d="M74.0 369.22 L77.0 369.40 L80.0 369.60 L83.0 369.82 L86.0 370.06 L89.0 370.32 L92.0 370.60 L95.0 370.90 L98.0 371.22 L101.0 371.55 L104.0 371.90 L107.0 372.26 L110.0 372.64 L113.0 373.03 L116.0 373.44 L119.0 373.85 L122.0 374.29 L125.0 374.73 L128.0 375.18 L131.0 375.64 L134.0 376.12 L137.0 376.60 L140.0 377.09 L143.0 377.58 L146.0 378.08 L149.0 378.59 L152.0 379.11 L155.0 379.63 L158.0 380.15 L161.0 380.68 L164.0 381.20 L167.0 381.73 L170.0 382.27 L173.0 382.80 L176.0 383.33 L179.0 383.86 L182.0 384.39 L185.0 384.92 L188.0 385.44 L191.0 385.96 L194.0 386.48 L197.0 386.99 L200.0 387.50 L203.0 388.00 L206.0 388.49 L209.0 388.98 L212.0 389.46 L215.0 389.92 L218.0 390.38 L221.0 390.83 L224.0 391.27 L227.0 391.70 L230.0 392.11 L233.0 392.52 L236.0 392.92 L239.0 393.30 L242.0 393.68 L245.0 394.04 L248.0 394.40 L251.0 394.74 L254.0 395.08 L257.0 395.40 L260.0 395.72 L263.0 396.03 L266.0 396.33 L269.0 396.61 L272.0 396.89 L275.0 397.16 L278.0 397.42 L281.0 397.68 L284.0 397.92 L287.0 398.15 L290.0 398.38 L293.0 398.60 L296.0 398.81 L299.0 399.01 L302.0 399.20 L305.0 399.39 L308.0 399.56 L311.0 399.73 L314.0 399.89 L317.0 400.04 L320.0 400.19 L323.0 400.33 L326.0 400.46 L329.0 400.58 L332.0 400.70 L335.0 400.80 L338.0 400.91 L341.0 401.00 L344.0 401.09 L347.0 401.17 L350.0 401.24 L353.0 401.31 L356.0 401.37 L359.0 401.43 L362.0 401.48 L365.0 401.52 L368.0 401.56 L371.0 401.59 L374.0 401.61 L377.0 401.63 L380.0 401.64 L383.0 401.65 L386.0 401.66 L389.0 401.66 L392.0 401.65 L395.0 401.65 L398.0 401.64 L401.0 401.62 L404.0 401.61 L407.0 401.59 L410.0 401.57 L413.0 401.54 L416.0 401.52 L419.0 401.50 L422.0 401.47 L425.0 401.45 L428.0 401.42 L431.0 401.39 L434.0 401.37 L437.0 401.35 L440.0 401.32 L443.0 401.30 L446.0 401.28 L449.0 401.26 L452.0 401.25 L455.0 401.24 L458.0 401.23 L461.0 401.22 L464.0 401.22 L467.0 401.22 L470.0 401.23 L473.0 401.24 L476.0 401.26 L479.0 401.28 L482.0 401.31 L485.0 401.34 L488.0 401.38 L491.0 401.42 L494.0 401.48 L497.0 401.54 L500.0 401.61 L503.0 401.68 L506.0 401.77 L509.0 401.86 L512.0 401.96 L515.0 402.07 L518.0 402.19 L521.0 402.32 L524.0 402.46 L527.0 402.61 L530.0 402.76 L533.0 402.93 L536.0 403.10 L539.0 403.28 L542.0 403.46 L545.0 403.64 L548.0 403.83 L551.0 404.03 L554.0 404.22 L557.0 404.42 L560.0 404.61 L563.0 404.81 L566.0 405.01 L569.0 405.20 L572.0 405.39 L575.0 405.58 L578.0 405.77 L581.0 405.95 L584.0 406.12 L587.0 406.29 L590.0 406.45 L593.0 406.60 L596.0 406.75 L599.0 406.89 L602.0 407.01 L605.0 407.13 L608.0 407.23 L611.0 407.32 L614.0 407.40 L617.0 407.47 L620.0 407.53 L623.0 407.59 L626.0 407.63 L629.0 407.67 L632.0 407.70 L635.0 407.73 L638.0 407.76 L641.0 407.78 L644.0 407.80 L647.0 407.83 L650.0 407.85 L653.0 407.87 L656.0 407.90 L659.0 407.93 L661.0 407.95"/>
<path stroke="#ff00ff" d="M74.0 361.32 L77.0 361.18 L80.0 361.03 L83.0 360.87 L86.0 360.69 L89.0 360.51 L92.0 360.31 L95.0 360.10 L98.0 359.88 L101.0 359.66 L104.0 359.43 L107.0 359.19 L110.0 358.94 L113.0 358.69 L116.0 358.43 L119.0 358.17 L122.0 357.90 L125.0 357.63 L128.0 357.36 L131.0 357.08 L134.0 356.81 L137.0 356.53 L140.0 356.25 L143.0 355.98 L146.0 355.70 L149.0 355.43 L152.0 355.16 L155.0 354.89 L158.0 354.62 L161.0 354.36 L164.0 354.11 L167.0 353.86 L170.0 353.61 L173.0 353.37 L176.0 353.14 L179.0 352.92 L182.0 352.71 L185.0 352.51 L188.0 352.31 L191.0 352.13 L194.0 351.96 L197.0 351.80 L200.0 351.65 L203.0 351.52 L206.0 351.40 L209.0 351.29 L212.0 351.20 L215.0 351.13 L218.0 351.07 L221.0 351.03 L224.0 351.00 L227.0 350.99 L230.0 351.00 L233.0 351.02 L236.0 351.05 L239.0 351.10 L242.0 351.15 L245.0 351.21 L248.0 351.29 L251.0 351.36 L254.0 351.45 L257.0 351.53 L260.0 351.63 L263.0 351.72 L266.0 351.81 L269.0 351.91 L272.0 352.00 L275.0 352.09 L278.0 352.18 L281.0 352.26 L284.0 352.33 L287.0 352.40 L290.0 352.46 L293.0 352.51 L296.0 352.55 L299.0 352.58 L302.0 352.60 L305.0 352.60 L308.0 352.59 L311.0 352.56 L314.0 352.51 L317.0 352.46 L320.0 352.40 L323.0 352.33 L326.0 352.25 L329.0 352.17 L332.0 352.09 L335.0 352.01 L338.0 351.94 L341.0 351.87 L344.0 351.81 L347.0 351.75 L350.0 351.71 L353.0 351.69 L356.0 351.68 L359.0 351.69 L362.0 351.72 L365.0 351.77 L368.0 351.85 L371.0 351.95 L374.0 352.09 L377.0 352.25 L380.0 352.44 L383.0 352.65 L386.0 352.89 L389.0 353.15 L392.0 353.44 L395.0 353.75 L398.0 354.08 L401.0 354.43 L404.0 354.80 L407.0 355.20 L410.0 355.61 L413.0 356.04 L416.0 356.49 L419.0 356.95 L422.0 357.44 L425.0 357.93 L428.0 358.44 L431.0 358.97 L434.0 359.50 L437.0 360.05 L440.0 360.61 L443.0 361.18 L446.0 361.77 L449.0 362.36 L452.0 362.95 L455.0 363.56 L458.0 364.17 L461.0 364.79 L464.0 365.41 L467.0 366.04 L470.0 366.67 L473.0 367.29 L476.0 367.92 L479.0 368.54 L482.0 369.15 L485.0 369.76 L488.0 370.36 L491.0 370.96 L494.0 371.54 L497.0 372.10 L500.0 372.66 L503.0 373.19 L506.0 373.71 L509.0 374.21 L512.0 374.69 L515.0 375.15 L518.0 375.59 L521.0 376.00 L524.0 376.38 L527.0 376.74 L530.0 377.07 L533.0 377.38 L536.0 377.67 L539.0 377.94 L542.0 378.18 L545.0 378.40 L548.0 378.61 L551.0 378.79 L554.0 378.96 L557.0 379.11 L560.0 379.24 L563.0 379.35 L566.0 379.45 L569.0 379.54 L572.0 379.61 L575.0 379.67 L578.0 379.72 L581.0 379.76 L584.0 379.78 L587.0 379.80 L590.0 379.80 L593.0 379.80 L596.0 379.79 L599.0 379.78 L602.0 379.76 L605.0 379.73 L608.0 379.70 L611.0 379.66 L614.0 379.63 L617.0 379.59 L620.0 379.55 L623.0 379.51 L626.0 379.46 L629.0 379.42 L632.0 379.39 L635.0 379.35 L638.0 379.32 L641.0 379.29 L644.0 379.26 L647.0 379.25 L650.0 379.23 L653.0 379.23 L656.0 379.23 L659.0 379.25 L661.0 379.26"/>
<path stroke="#77ac30" d="M74.0 432.33 L77.0 432.51 L80.0 432.69 L83.0 432.87 L86.0 433.04 L89.0 433.21 L92.0 433.38 L95.0 433.53 L98.0 433.68 L101.0 433.83 L104.0 433.96 L107.0 434.09 L110.0 434.20 L113.0 434.31 L116.0 434.40 L119.0 434.49 L122.0 434.55 L125.0 434.61 L128.0 434.65 L131.0 434.67 L134.0 434.68 L137.0 434.67 L140.0 434.65 L143.0 434.61 L146.0 434.54 L149.0 434.46 L152.0 434.36 L155.0 434.23 L158.0 434.09 L161.0 433.92 L164.0 433.73 L167.0 433.52 L170.0 433.29 L173.0 433.05 L176.0 432.79 L179.0 432.51 L182.0 432.23 L185.0 431.93 L188.0 431.63 L191.0 431.31 L194.0 430.99 L197.0 430.67 L200.0 430.34 L203.0 430.01 L206.0 429.68 L209.0 429.35 L212.0 429.02 L215.0 428.70 L218.0 428.38 L221.0 428.07 L224.0 427.77 L227.0 427.47 L230.0 427.18 L233.0 426.89 L236.0 426.61 L239.0 426.33 L242.0 426.06 L245.0 425.78 L248.0 425.51 L251.0 425.24 L254.0 424.96 L257.0 424.69 L260.0 424.41 L263.0 424.13 L266.0 423.85 L269.0 423.56 L272.0 423.26 L275.0 422.96 L278.0 422.65 L281.0 422.33 L284.0 422.01 L287.0 421.67 L290.0 421.32 L293.0 420.96 L296.0 420.59 L299.0 420.21 L302.0 419.81 L305.0 419.40 L308.0 418.97 L311.0 418.53 L314.0 418.07 L317.0 417.60 L320.0 417.11 L323.0 416.61 L326.0 416.11 L329.0 415.59 L332.0 415.07 L335.0 414.54 L338.0 414.01 L341.0 413.47 L344.0 412.93 L347.0 412.39 L350.0 411.84 L353.0 411.30 L356.0 410.76 L359.0 410.22 L362.0 409.69 L365.0 409.17 L368.0 408.65 L371.0 408.14 L374.0 407.64 L377.0 407.15 L380.0 406.68 L383.0 406.23 L386.0 405.80 L389.0 405.39 L392.0 405.02 L395.0 404.68 L398.0 404.37 L401.0 404.10 L404.0 403.87 L407.0 403.69 L410.0 403.55 L413.0 403.46 L416.0 403.43 L419.0 403.45 L422.0 403.52 L425.0 403.65 L428.0 403.83 L431.0 404.07 L434.0 404.35 L437.0 404.69 L440.0 405.08 L443.0 405.52 L446.0 406.02 L449.0 406.56 L452.0 407.15 L455.0 407.80 L458.0 408.49 L461.0 409.24 L464.0 410.03 L467.0 410.86 L470.0 411.73 L473.0 412.65 L476.0 413.59 L479.0 414.57 L482.0 415.59 L485.0 416.63 L488.0 417.69 L491.0 418.77 L494.0 419.88 L497.0 421.00 L500.0 422.14 L503.0 423.29 L506.0 424.44 L509.0 425.60 L512.0 426.77 L515.0 427.93 L518.0 429.10 L521.0 430.26 L524.0 431.41 L527.0 432.55 L530.0 433.69 L533.0 434.82 L536.0 435.94 L539.0 437.05 L542.0 438.15 L545.0 439.24 L548.0 440.32 L551.0 441.39 L554.0 442.45 L557.0 443.50 L560.0 444.54 L563.0 445.56 L566.0 446.57 L569.0 447.57 L572.0 448.55 L575.0 449.52 L578.0 450.48 L581.0 451.42 L584.0 452.35 L587.0 453.26 L590.0 454.15 L593.0 455.03 L596.0 455.89 L599.0 456.73 L602.0 457.56 L605.0 458.36 L608.0 459.15 L611.0 459.92 L614.0 460.67 L617.0 461.40 L620.0 462.11 L623.0 462.80 L626.0 463.46 L629.0 464.11 L632.0 464.73 L635.0 465.34 L638.0 465.91 L641.0 466.47 L644.0 467.00 L647.0 467.51 L650.0 467.99 L653.0 468.45 L656.0 468.88 L659.0 469.29 L661.0 469.55"/>
<path stroke="#7e2f8e" d="M74.0 505.29 L77.0 505.08 L80.0 504.87 L83.0 504.65 L86.0 504.43 L89.0 504.21 L92.0 503.98 L95.0 503.76 L98.0 503.52 L101.0 503.29 L104.0 503.05 L107.0 502.81 L110.0 502.57 L113.0 502.33 L116.0 502.09 L119.0 501.84 L122.0 501.60 L125.0 501.35 L128.0 501.10 L131.0 500.85 L134.0 500.60 L137.0 500.35 L140.0 500.11 L143.0 499.86 L146.0 499.61 L149.0 499.36 L152.0 499.11 L155.0 498.86 L158.0 498.62 L161.0 498.37 L164.0 498.13 L167.0 497.89 L170.0 497.65 L173.0 497.41 L176.0 497.17 L179.0 496.94 L182.0 496.71 L185.0 496.48 L188.0 496.26 L191.0 496.03 L194.0 495.81 L197.0 495.60 L200.0 495.39 L203.0 495.18 L206.0 494.97 L209.0 494.77 L212.0 494.58 L215.0 494.39 L218.0 494.20 L221.0 494.02 L224.0 493.84 L227.0 493.67 L230.0 493.50 L233.0 493.33 L236.0 493.17 L239.0 493.00 L242.0 492.84 L245.0 492.68 L248.0 492.51 L251.0 492.34 L254.0 492.17 L257.0 492.00 L260.0 491.82 L263.0 491.64 L266.0 491.45 L269.0 491.26 L272.0 491.05 L275.0 490.84 L278.0 490.62 L281.0 490.39 L284.0 490.16 L287.0 489.91 L290.0 489.64 L293.0 489.37 L296.0 489.08 L299.0 488.78 L302.0 488.47 L305.0 488.13 L308.0 487.79 L311.0 487.42 L314.0 487.04 L317.0 486.65 L320.0 486.24 L323.0 485.82 L326.0 485.40 L329.0 484.96 L332.0 484.52 L335.0 484.07 L338.0 483.61 L341.0 483.15 L344.0 482.69 L347.0 482.23 L350.0 481.77 L353.0 481.31 L356.0 480.86 L359.0 480.41 L362.0 479.96 L365.0 479.53 L368.0 479.10 L371.0 478.68 L374.0 478.27 L377.0 477.88 L380.0 477.50 L383.0 477.13 L386.0 476.78 L389.0 476.44 L392.0 476.12 L395.0 475.82 L398.0 475.54 L401.0 475.27 L404.0 475.03 L407.0 474.81 L410.0 474.61 L413.0 474.44 L416.0 474.29 L419.0 474.16 L422.0 474.07 L425.0 474.00 L428.0 473.95 L431.0 473.94 L434.0 473.96 L437.0 474.01 L440.0 474.09 L443.0 474.20 L446.0 474.35 L449.0 474.54 L452.0 474.76 L455.0 475.01 L458.0 475.31 L461.0 475.64 L464.0 476.01 L467.0 476.41 L470.0 476.85 L473.0 477.32 L476.0 477.82 L479.0 478.35 L482.0 478.90 L485.0 479.48 L488.0 480.08 L491.0 480.70 L494.0 481.34 L497.0 482.00 L500.0 482.67 L503.0 483.36 L506.0 484.06 L509.0 484.77 L512.0 485.49 L515.0 486.21 L518.0 486.94 L521.0 487.68 L524.0 488.42 L527.0 489.15 L530.0 489.89 L533.0 490.63 L536.0 491.37 L539.0 492.11 L542.0 492.84 L545.0 493.57 L548.0 494.30 L551.0 495.03 L554.0 495.74 L557.0 496.46 L560.0 497.17 L563.0 497.87 L566.0 498.56 L569.0 499.25 L572.0 499.92 L575.0 500.59 L578.0 501.25 L581.0 501.89 L584.0 502.53 L587.0 503.15 L590.0 503.76 L593.0 504.35 L596.0 504.93 L599.0 505.50 L602.0 506.05 L605.0 506.58 L608.0 507.10 L611.0 507.59 L614.0 508.07 L617.0 508.54 L620.0 508.98 L623.0 509.40 L626.0 509.80 L629.0 510.17 L632.0 510.53 L635.0 510.86 L638.0 511.17 L641.0 511.45 L644.0 511.71 L647.0 511.94 L650.0 512.15 L653.0 512.32 L656.0 512.47 L659.0 512.60 L661.0 512.66"/>
</g>
<rect x="523.5" y="27.5" width="131" height="122" fill="#fff" stroke="#404040" stroke-width="0.75"/>
<path d="M527 41.20H554.3" stroke="#000" stroke-width="3.4" fill="none"/>
<text x="555.5" y="49.0" font-size="20" word-spacing="0.4" fill="#000" stroke="#000" stroke-width="0.3">μc = 0.1 eV</text>
<path d="M527 64.91H554.3" stroke="#ff00ff" stroke-width="3.4" fill="none"/>
<text x="555.5" y="72.7" font-size="20" word-spacing="0.4" fill="#000" stroke="#000" stroke-width="0.3">μc = 0.3 eV</text>
<path d="M527 88.62H554.3" stroke="#0000ff" stroke-width="3.4" fill="none"/>
<text x="555.5" y="96.4" font-size="20" word-spacing="0.4" fill="#000" stroke="#000" stroke-width="0.3">μc = 0.5 eV</text>
<path d="M527 112.33H554.3" stroke="#00ff00" stroke-width="3.4" fill="none"/>
<text x="555.5" y="120.1" font-size="20" word-spacing="0.4" fill="#000" stroke="#000" stroke-width="0.3">μc = 0.7 eV</text>
<path d="M527 136.04H554.3" stroke="#ff0000" stroke-width="3.4" fill="none"/>
<text x="555.5" y="143.8" font-size="20" word-spacing="0.4" fill="#000" stroke="#000" stroke-width="0.3">μc = 0.9 eV</text>
<rect x="539.5" y="391.5" width="123" height="186" fill="#fff" stroke="#404040" stroke-width="0.75"/>
<path d="M542.8 403.75H570.2" stroke="#ff99c8" stroke-width="3.4" fill="none"/>
<text x="572" y="410.1" font-size="17.1" word-spacing="0.7" fill="#000" stroke="#000" stroke-width="0.3">Theta = 0°</text>
<path d="M542.8 423.97H570.2" stroke="#4dbeee" stroke-width="3.4" fill="none"/>
<text x="572" y="430.4" font-size="17.1" word-spacing="0.7" fill="#000" stroke="#000" stroke-width="0.3">Theta = 10°</text>
<path d="M542.8 444.19H570.2" stroke="#0000ff" stroke-width="3.4" fill="none"/>
<text x="572" y="450.6" font-size="17.1" word-spacing="0.7" fill="#000" stroke="#000" stroke-width="0.3">Theta = 20°</text>
<path d="M542.8 464.41H570.2" stroke="#00ff00" stroke-width="3.4" fill="none"/>
<text x="572" y="470.8" font-size="17.1" word-spacing="0.7" fill="#000" stroke="#000" stroke-width="0.3">Theta = 30°</text>
<path d="M542.8 484.63H570.2" stroke="#ff0000" stroke-width="3.4" fill="none"/>
<text x="572" y="491.0" font-size="17.1" word-spacing="0.7" fill="#000" stroke="#000" stroke-width="0.3">Theta = 40°</text>
<path d="M542.8 504.85H570.2" stroke="#000" stroke-width="3.4" fill="none"/>
<text x="572" y="511.2" font-size="17.1" word-spacing="0.7" fill="#000" stroke="#000" stroke-width="0.3">Theta = 50°</text>
<path d="M542.8 525.07H570.2" stroke="#ff00ff" stroke-width="3.4" fill="none"/>
<text x="572" y="531.5" font-size="17.1" word-spacing="0.7" fill="#000" stroke="#000" stroke-width="0.3">Theta = 60°</text>
<path d="M542.8 545.29H570.2" stroke="#77ac30" stroke-width="3.4" fill="none"/>
<text x="572" y="551.7" font-size="17.1" word-spacing="0.7" fill="#000" stroke="#000" stroke-width="0.3">Theta = 70°</text>
<path d="M542.8 565.51H570.2" stroke="#7e2f8e" stroke-width="3.4" fill="none"/>
<text x="572" y="571.9" font-size="17.1" word-spacing="0.7" fill="#000" stroke="#000" stroke-width="0.3">Theta = 80°</text>
</svg></body></html>
